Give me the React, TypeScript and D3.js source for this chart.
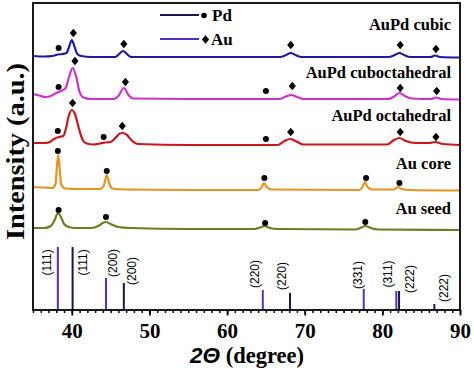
import React, { useEffect, useRef } from 'react';
import * as d3 from 'd3';

// 2-theta range and tick labels
const xDomain = [35, 90];
const xTickLabels = [40, 50, 60, 70, 80, 90];

// offset patterns: [2theta, intensity a.u.]
const cubic = [
  [35, 254], [36.5, 253.5], [37.5, 254], [38.2, 255.5], [38.8, 256], [39.3, 257], [39.6, 262], [40.0, 270],
  [40.4, 262], [40.7, 256], [41.2, 254], [42.5, 253], [45.6, 253], [46.1, 256], [46.6, 259], [47.1, 256],
  [47.6, 253], [55, 253], [66.8, 253], [67.6, 255], [68.2, 257], [68.8, 255], [69.6, 253], [80.8, 253],
  [81.6, 255], [82.2, 257], [82.8, 255], [83.6, 253], [86.2, 253], [86.8, 254.5], [87.4, 253], [90, 252.5],
];
const cubocta = [
  [35, 216], [35.8, 214.5], [36.6, 213], [37.3, 214], [38.0, 217], [38.6, 219], [39.2, 222], [39.6, 232],
  [40.1, 242], [40.6, 232], [41.0, 218], [41.5, 212.5], [42.5, 211], [45.4, 211], [46.0, 214], [46.7, 222],
  [47.3, 215], [47.9, 211.5], [55, 211], [66.8, 211], [67.7, 214], [68.3, 215], [68.9, 213.5], [69.8, 211],
  [80.8, 211], [81.6, 214], [82.2, 217], [82.9, 214], [83.8, 211.5], [86.3, 211], [86.9, 212.5], [87.6, 211],
  [90, 210.5],
];
const octa = [
  [35, 167], [36.4, 167], [37.0, 167.5], [37.7, 171], [38.3, 173], [38.9, 174], [39.2, 180], [39.6, 194],
  [40.0, 200], [40.4, 196], [40.9, 182], [41.4, 170], [41.9, 166.5], [42.8, 165.5], [43.6, 166.5],
  [44.3, 167.5], [45.0, 168], [45.6, 172], [46.2, 176.5], [46.6, 177], [47.1, 175], [47.8, 169], [48.5, 166],
  [55, 165], [66.5, 165], [67.4, 169], [68.1, 171], [68.8, 169], [69.8, 165.5], [80.6, 165.5], [81.5, 170],
  [82.2, 172], [83.0, 169], [84.3, 167], [86, 167], [86.8, 168], [87.8, 166], [90, 165],
];
const auCore = [
  [35, 123], [36.5, 122.5], [37.5, 122], [37.9, 126], [38.1, 145], [38.25, 155], [38.45, 140], [38.65, 125],
  [39.2, 121.5], [41, 121], [43.6, 121], [44.1, 124], [44.5, 135], [44.8, 127], [45.2, 121.5], [47, 120.5],
  [55, 120], [63.9, 120], [64.4, 122], [64.75, 127], [65.1, 123], [65.7, 120.5], [77, 120], [77.4, 122.5],
  [77.75, 128], [78.1, 123], [78.7, 120.5], [81.5, 120.5], [82.0, 123], [82.5, 121], [83.5, 120], [90, 119.5],
];
const auSeed = [
  [35, 82], [36.5, 82], [37.3, 84], [37.8, 90], [38.2, 97], [38.6, 93], [39.0, 86], [39.6, 83], [40.5, 82],
  [42.5, 82], [43.4, 84], [44.0, 87], [44.4, 88], [45.0, 86], [46.0, 83], [47.5, 82], [55, 81], [63.5, 81],
  [64.3, 82.5], [64.8, 84], [65.5, 82], [66.5, 81], [76.5, 80.5], [77.3, 82.5], [77.8, 84], [78.5, 82],
  [79.5, 80.5], [90, 80],
];

const seriesNames = ['AuPd cubic', 'AuPd cuboctahedral', 'AuPd octahedral', 'Au core', 'Au seed'];
const seriesData = [cubic, cubocta, octa, auCore, auSeed];
const seriesColors = ['#1c1c9c', '#cc33cc', '#c8181e', '#e8921f', '#6e7c22'];
const labelLevels = [280, 232, 189, 141, 96];

// peak markers: [2theta, intensity, 'c' = Pd circle | 'd' = Au diamond]
const markers = [
  [38.3, 262, 'c'], [40.2, 277, 'd'], [46.7, 266, 'd'], [68.2, 265, 'd'], [82.3, 265, 'd'], [86.9, 261, 'd'],
  [38.3, 223, 'c'], [40.4, 249, 'd'], [46.9, 228, 'd'], [65.0, 219, 'c'], [68.4, 224, 'd'], [82.3, 222, 'd'], [87.0, 219, 'd'],
  [38.2, 179, 'c'], [40.1, 207, 'd'], [44.1, 173, 'c'], [46.5, 184, 'd'], [65.0, 171, 'c'], [68.2, 178, 'd'], [82.3, 178, 'd'], [86.9, 173, 'd'],
  [38.2, 159, 'c'], [44.5, 139, 'c'], [64.8, 132, 'c'], [77.9, 132, 'c'], [82.2, 127, 'c'],
  [38.3, 100, 'c'], [44.4, 93, 'c'], [64.9, 87, 'c'], [77.8, 88, 'c'],
];

// reference sticks
const stickPos = [38.2, 40.1, 44.4, 46.7, 64.6, 68.1, 77.6, 81.8, 82.15, 86.7];
const stickHeight = [63, 63, 32, 27, 20, 17, 21, 19, 19, 6];
const stickPhase = ['Au', 'Pd', 'Au', 'Pd', 'Au', 'Pd', 'Au', 'Au', 'Pd', 'Pd'];
const stickLabels = ['(111)', '(111)', '(200)', '(200)', '(220)', '(220)', '(331)', '(311)', '(222)', '(222)'];
const stickLabelDx = [-10.5, 10, 7, 8, -8, -8, -6, -8, 11, 10];
const stickLabelMid = [47.5, 47.5, 47, 39, 36, 34, 35, 36, 31, 22];

const W = 474;
const H = 370;
const plot = { left: 33, right: 460, top: 3, bottom: 310 };
const serif = '"Liberation Serif", "Times New Roman", serif';
const sans = '"Liberation Sans", Arial, sans-serif';
const phaseColor: Record<string, string> = { Au: '#5b2cc4', Pd: '#1c1648' };

const x = d3.scaleLinear().domain(xDomain).range([plot.left, plot.right]);
const y = d3.scaleLinear().domain([0, plot.bottom - plot.top]).range([plot.bottom, plot.top]);

const diamond = 'M0,-4.2L3.6,0L0,4.2L-3.6,0Z';

export default function App() {
  const axisRef = useRef<SVGGElement>(null);

  useEffect(() => {
    const g = d3.select(axisRef.current);
    g.selectAll('*').remove();
    const minor = g.append('g').attr('transform', `translate(0,${plot.bottom})`)
      .call(d3.axisBottom(x).tickValues(d3.range(35, 91, 1)).tickSize(3).tickFormat(() => ''));
    minor.select('.domain').remove();
    minor.selectAll('line').attr('stroke', '#000').attr('stroke-width', 1.5);
    const major = g.append('g').attr('transform', `translate(0,${plot.bottom})`)
      .call(d3.axisBottom(x).tickValues(xTickLabels).tickSize(5.5).tickPadding(7.5));
    major.select('.domain').remove();
    major.selectAll('line').attr('stroke', '#000').attr('stroke-width', 1.8);
    major.selectAll('text')
      .attr('font-family', serif).attr('font-weight', 'bold').attr('font-size', 21).attr('fill', '#000')
      .attr('dy', '0.71em');
  }, []);

  const line = d3.line<number[]>().x((d) => x(d[0])).y((d) => y(d[1])).curve(d3.curveMonotoneX);

  return (
    <svg width={W} height={H} style={{ position: 'absolute', left: 0, top: 0, background: '#fff' }}>
      {seriesData.map((s, i) => (
        <path key={i} d={line(s) || ''} fill="none" stroke={seriesColors[i]} strokeWidth={2.2} strokeLinejoin="round" />
      ))}
      {markers.map((m, i) => (
        m[2] === 'c'
          ? <circle key={i} cx={x(m[0] as number)} cy={y(m[1] as number)} r={3} fill="#000" />
          : <path key={i} d={diamond} transform={`translate(${x(m[0] as number)},${y(m[1] as number)})`} fill="#000" />
      ))}
      {seriesNames.map((n, i) => (
        <text key={n} x={451} y={y(labelLevels[i])} textAnchor="end" fontFamily={serif} fontWeight="bold" fontSize={16.5}>{n}</text>
      ))}
      {stickPos.map((p, i) => (
        <g key={i}>
          <line x1={x(p)} x2={x(p)} y1={y(0)} y2={y(stickHeight[i])} stroke={phaseColor[stickPhase[i]]} strokeWidth={2} />
          <text transform={`translate(${x(p) + stickLabelDx[i]},${y(stickLabelMid[i])}) rotate(-90)`}
            textAnchor="middle" dominantBaseline="central" fontFamily={sans} fontSize={12}>{stickLabels[i]}</text>
        </g>
      ))}
      {/* legend */}
      <line x1={160} x2={199} y1={15} y2={15} stroke={phaseColor.Pd} strokeWidth={2} />
      <circle cx={204} cy={15.5} r={2.8} fill="#000" />
      <text x={212} y={21} fontFamily={serif} fontWeight="bold" fontSize={17}>Pd</text>
      <line x1={160} x2={199} y1={39} y2={39} stroke={phaseColor.Au} strokeWidth={2} />
      <path d={diamond} transform="translate(205.5,39.5)" fill="#000" />
      <text x={211} y={45} fontFamily={serif} fontWeight="bold" fontSize={17}>Au</text>
      {/* frame */}
      <rect x={plot.left} y={plot.top} width={plot.right - plot.left} height={plot.bottom - plot.top}
        fill="none" stroke="#000" strokeWidth={1.8} />
      <g ref={axisRef} />
      <text x={247} y={363} textAnchor="middle" fontFamily={serif} fontWeight="bold" fontSize={22.5}>
        <tspan fontStyle="italic" fontFamily={sans}>2Θ</tspan> (degree)
      </text>
      <text transform="translate(24,151.5) rotate(-90)" textAnchor="middle" fontFamily={serif} fontWeight="bold"
        fontSize={25} textLength={177} lengthAdjust="spacingAndGlyphs">Intensity (a.u.)</text>
    </svg>
  );
}
